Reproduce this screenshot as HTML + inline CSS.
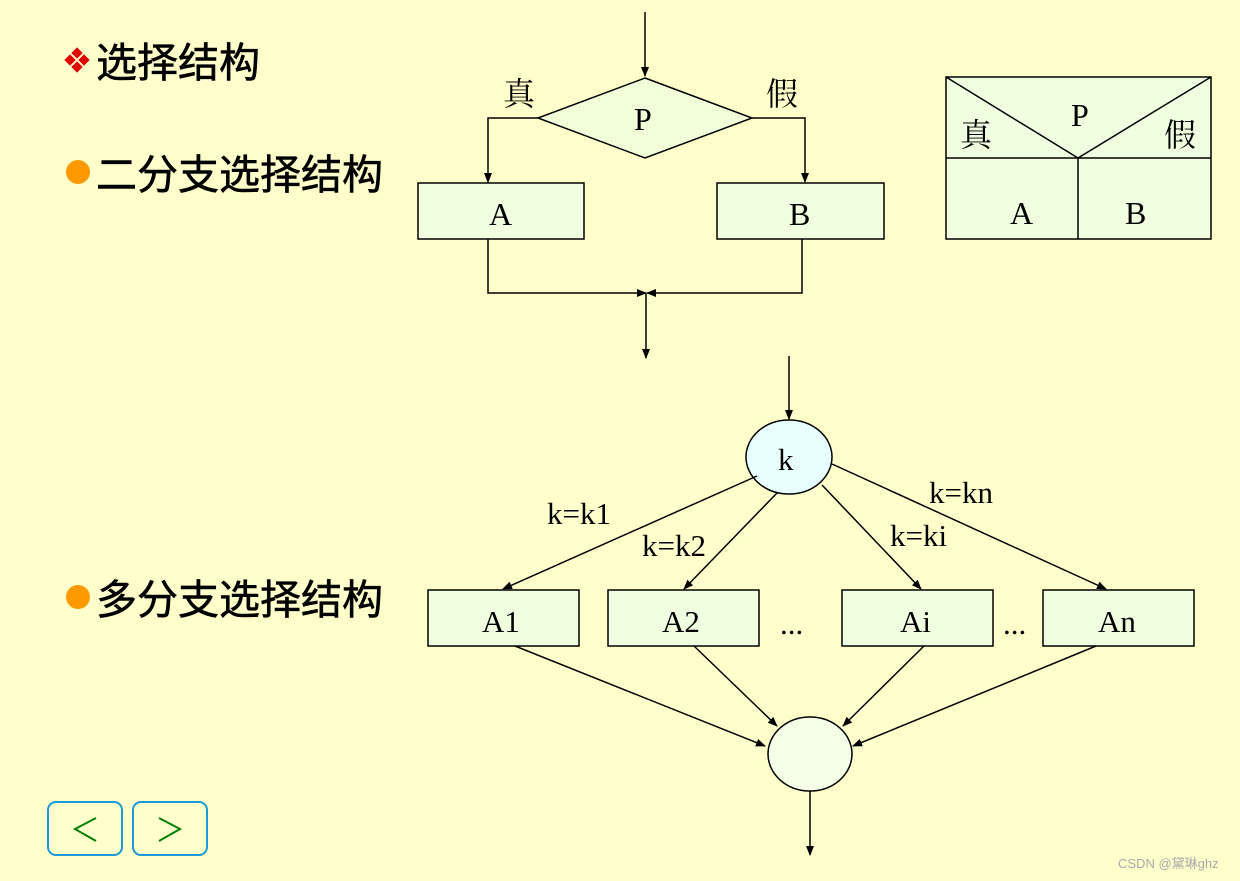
<!DOCTYPE html>
<html><head><meta charset="utf-8"><style>
html,body{margin:0;padding:0;background:#FFFFCC;}
svg{display:block}
.c{font-family:"Liberation Sans","Noto Sans CJK SC",sans-serif;font-size:41px;fill:#000;stroke:#000;stroke-width:0.6}
.s{font-family:"Liberation Serif","Noto Serif CJK SC",serif;fill:#000}
</style></head><body>
<svg width="1240" height="881" viewBox="0 0 1240 881" xmlns="http://www.w3.org/2000/svg">
<defs><marker id="a" markerWidth="10" markerHeight="8" refX="9" refY="4" orient="auto" markerUnits="userSpaceOnUse"><path d="M0,0 L10,4 L0,8 Z" fill="#000"/></marker></defs>
<rect width="1240" height="881" fill="#FFFFCC"/>
<g fill="#E00000"><rect x="66" y="56" width="8" height="8" transform="rotate(45 70 60)"/><rect x="73" y="49" width="8" height="8" transform="rotate(45 77 53)"/><rect x="80" y="56" width="8" height="8" transform="rotate(45 84 60)"/><rect x="73" y="63" width="8" height="8" transform="rotate(45 77 67)"/></g>
<text x="96" y="77" class="c">选择结构</text>
<circle cx="78" cy="172" r="12" fill="#FF9900"/>
<text x="96" y="189" class="c">二分支选择结构</text>
<circle cx="78" cy="597" r="12" fill="#FF9900"/>
<text x="96" y="614" class="c">多分支选择结构</text>
<g stroke="#000" stroke-width="1.5" fill="none">
<line x1="645" y1="12" x2="645" y2="76" marker-end="url(#a)"/>
<polygon points="645,78 752,118 645,158 538,118" fill="#F0FFD8"/>
<polyline points="538,118 488,118 488,182" marker-end="url(#a)"/>
<polyline points="752,118 805,118 805,182" marker-end="url(#a)"/>
<rect x="418" y="183" width="166" height="56" fill="#F0FFE0"/>
<rect x="717" y="183" width="167" height="56" fill="#F0FFE0"/>
<polyline points="488,239 488,293 646,293" marker-end="url(#a)"/>
<polyline points="802,239 802,293 647,293" marker-end="url(#a)"/>
<line x1="646" y1="293" x2="646" y2="358" marker-end="url(#a)"/>
<rect x="946" y="77" width="265" height="162" fill="#F0FFE0"/>
<line x1="946" y1="158" x2="1211" y2="158"/>
<line x1="946" y1="77" x2="1078" y2="158"/>
<line x1="1211" y1="77" x2="1078" y2="158"/>
<line x1="1078" y1="158" x2="1078" y2="239"/>
</g>
<g class="s" font-size="32">
<text x="503" y="105">真</text><text x="766" y="105">假</text>
<text x="634" y="130">P</text>
<text x="489" y="225">A</text><text x="789" y="225">B</text>
<text x="960" y="146">真</text><text x="1164" y="146">假</text>
<text x="1071" y="126">P</text>
<text x="1010" y="224">A</text><text x="1125" y="224">B</text>
</g>
<g stroke="#000" stroke-width="1.5" fill="none">
<line x1="789" y1="356" x2="789" y2="419" marker-end="url(#a)"/>
<ellipse cx="789" cy="457" rx="43" ry="37" fill="#E8FFFF"/>
<line x1="757" y1="476" x2="503" y2="589" marker-end="url(#a)"/>
<line x1="777" y1="493" x2="684" y2="589" marker-end="url(#a)"/>
<line x1="822" y1="485" x2="921" y2="589" marker-end="url(#a)"/>
<line x1="832" y1="464" x2="1106" y2="589" marker-end="url(#a)"/>
<rect x="428" y="590" width="151" height="56" fill="#F0FFE0"/>
<rect x="608" y="590" width="151" height="56" fill="#F0FFE0"/>
<rect x="842" y="590" width="151" height="56" fill="#F0FFE0"/>
<rect x="1043" y="590" width="151" height="56" fill="#F0FFE0"/>
<line x1="515" y1="646" x2="765" y2="746" marker-end="url(#a)"/>
<line x1="694" y1="646" x2="777" y2="726" marker-end="url(#a)"/>
<line x1="924" y1="646" x2="843" y2="726" marker-end="url(#a)"/>
<line x1="1096" y1="646" x2="853" y2="746" marker-end="url(#a)"/>
<ellipse cx="810" cy="754" rx="42" ry="37" fill="#F4FFE6"/>
<line x1="810" y1="791" x2="810" y2="855" marker-end="url(#a)"/>
</g>
<g class="s" font-size="31">
<text x="778" y="470">k</text>
<text x="547" y="524">k=k1</text>
<text x="642" y="556">k=k2</text>
<text x="890" y="546">k=ki</text>
<text x="929" y="503">k=kn</text>
<text x="482" y="632">A1</text><text x="662" y="632">A2</text>
<text x="900" y="632">Ai</text><text x="1098" y="632">An</text>
<text x="780" y="634">...</text><text x="1003" y="634">...</text>
</g>
<rect x="48" y="802" width="74" height="53" rx="8" fill="none" stroke="#1A9AD6" stroke-width="2"/>
<rect x="133" y="802" width="74" height="53" rx="8" fill="none" stroke="#1A9AD6" stroke-width="2"/>
<polyline points="96,818 75,829 96,841" fill="none" stroke="#008000" stroke-width="2"/>
<polyline points="159,818 180,829 159,841" fill="none" stroke="#008000" stroke-width="2"/>
<text x="1118" y="868" font-family="Liberation Sans,Noto Sans CJK SC,sans-serif" font-size="13" fill="#aaa">CSDN @黛琳ghz</text>
</svg>
</body></html>
